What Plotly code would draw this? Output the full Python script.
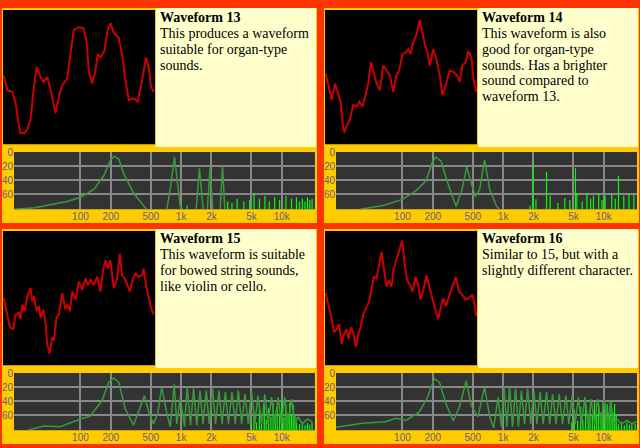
import plotly.graph_objects as go

W, H = 640, 448

# ---- data ----
titles = ["Waveform 13", "Waveform 14", "Waveform 15", "Waveform 16"]
texts = [
    ["This produces a waveform", "suitable for organ-type", "sounds."],
    ["This waveform is also", "good for organ-type", "sounds. Has a brighter", "sound compared to", "waveform 13."],
    ["This waveform is suitable", "for bowed string sounds,", "like violin or cello."],
    ["Similar to 15, but with a", "slightly different character."],
]

wave13_t = [0, 11, 26, 36, 49, 61, 71, 81, 91, 99, 109, 119, 131, 141, 156, 166, 176, 191, 201, 211, 226, 239, 249, 256,
            266, 276, 283, 291, 303, 313, 321, 331, 346, 356, 366, 376, 391, 403, 416, 428, 436, 443, 451]
wave13_a = [205, 160, 155, 120, 30, 28, 40, 70, 170, 230, 205, 185, 200, 160, 90, 140, 175, 195, 270, 345, 352, 350, 310, 220,
            180, 220, 270, 260, 280, 345, 365, 335, 320, 270, 190, 130, 135, 125, 190, 260, 230, 170, 155]

wave14_t = [0, 8, 18, 28, 38, 45, 51, 56, 63, 73, 83, 93, 101, 111, 121, 128, 136, 143, 153, 163, 173, 183, 193, 203, 213, 221,
            231, 241, 248, 255, 263, 273, 283, 291, 298, 305, 313, 323, 333, 343, 351, 361, 373, 385, 395, 403, 411, 421, 429,
            438, 445, 453]
wave14_a = [210, 170, 130, 180, 145, 125, 60, 30, 50, 70, 115, 110, 125, 110, 150, 180, 245, 220, 180, 160, 235, 220, 205, 155,
            205, 220, 270, 275, 285, 270, 305, 330, 375, 335, 300, 280, 235, 285, 255, 205, 145, 175, 220, 215, 205, 185, 235,
            245, 280, 260, 190, 155]

wave15_t = [0, 9, 19, 29, 36, 46, 51, 56, 63, 71, 81, 86, 91, 99, 106, 111, 119, 126, 131, 138, 146, 151, 159, 166, 176, 186,
            191, 199, 206, 216, 226, 236, 246, 253, 261, 271, 281, 291, 299, 306, 313, 321, 331, 341, 349, 356, 366, 379, 389,
            396, 406, 416, 421, 429, 436, 443, 451]
wave15_a = [200, 160, 110, 105, 150, 155, 135, 180, 160, 205, 230, 190, 205, 160, 175, 140, 165, 120, 60, 30, 80, 70, 140, 150,
            215, 165, 180, 160, 220, 195, 250, 225, 260, 240, 255, 240, 265, 220, 285, 315, 290, 315, 230, 260, 335, 270, 255,
            220, 260, 275, 265, 270, 290, 235, 205, 170, 150]

wave16_t = [0, 8, 18, 25, 33, 40, 48, 55, 63, 69, 76, 83, 91, 98, 105, 113, 123, 131, 138, 145, 153, 161, 168, 175, 183, 190,
            198, 205, 215, 223, 230, 238, 245, 253, 261, 270, 278, 285, 295, 303, 311, 318, 328, 338, 345, 353, 361, 371, 381,
            391, 401, 411, 421, 431, 441, 448, 453]
wave16_a = [215, 180, 135, 95, 105, 120, 60, 90, 105, 75, 110, 95, 50, 90, 110, 150, 175, 190, 230, 265, 260, 310, 340, 290,
            235, 255, 235, 290, 325, 345, 375, 300, 255, 240, 220, 265, 240, 195, 230, 270, 235, 205, 170, 135, 170, 200, 175,
            205, 230, 265, 220, 210, 195, 200, 210, 180, 145]

# spectra: frequency (Hz) and level (dB below top)
spec13_f = [22, 35, 74, 100, 136, 170, 198, 217, 240, 268, 337, 424, 458, 720, 795, 860, 890, 978, 1035, 1410, 1520, 1660,
            1820, 1940, 2060, 2440, 2580, 2720]
spec13_db = [81, 79, 70, 64, 53, 34, 12, 6, 10, 30, 58, 76, 82, 82, 44, 7, 25, 76, 82, 82, 23, 82, 82, 22, 82, 82, 20, 82]
spike13_f = [1150, 2900, 3200, 3600, 4200, 4800, 5300, 6000, 6800, 7500, 8500, 9500, 11000, 12500, 14000, 15000, 16000,
             17000, 18000, 19000, 20000]
spike13_db = [76, 70, 72, 66, 70, 68, 58, 66, 62, 70, 64, 68, 62, 66, 64, 70, 66, 70, 64, 68, 66]

spec14_f = [38, 63, 100, 136, 171, 200, 215, 242, 282, 341, 390, 435, 482, 532, 585, 655, 736, 858, 926]
spec14_db = [81, 76, 67, 55, 41, 13, 7, 13, 44, 77, 53, 21, 44, 63, 53, 11, 53, 76, 82]
spike14_f = [1850, 1970, 2120, 2700, 2930, 3500, 4100, 4600, 5230, 5400, 6100, 6800, 7400, 7900, 8900, 9600, 10300, 12000,
             13000, 14000, 15800, 17800, 19900]
spike14_db = [76, 16, 67, 28, 62, 72, 65, 68, 23, 58, 70, 58, 66, 62, 58, 68, 62, 58, 66, 34, 62, 60, 60]

spec15_f = [30, 43, 63, 100, 125, 164, 191, 214, 240, 279, 337, 385, 432, 484, 532, 584, 643, 710, 780, 855, 905, 980, 1080,
            1150, 1240, 1330, 1430, 1540, 1650, 1780, 1900, 2050, 2200, 2380, 2550, 2750, 2950, 3200, 3450, 3700, 4000, 4300,
            4650, 5000, 5400, 5800, 6300, 6800, 7300, 7900, 8500, 9200, 9900, 10700, 11500, 12500, 13500, 14500, 16000,
            18000, 20000]
spec15_db = [81, 75, 76, 65, 61, 39, 13, 7, 13, 51, 74, 53, 32, 58, 72, 58, 20, 53, 76, 16, 72, 34, 76, 20, 74, 22, 74, 25,
             72, 25, 72, 22, 72, 25, 72, 27, 72, 27, 72, 25, 72, 30, 72, 25, 72, 32, 72, 30, 72, 34, 72, 34, 72, 34, 72, 37,
             72, 62, 72, 65, 69]
spike15_f = [5000, 5300, 5600, 6000, 6300, 6700, 7000, 7400, 7800, 8200, 8600, 9000, 9500, 10000, 10500, 11000, 11500,
             12000, 12500, 13000, 13500, 14000, 15000, 16000, 17000, 18000, 19000, 20000]
spike15_db = [72, 55, 70, 50, 68, 45, 66, 50, 62, 42, 60, 48, 58, 40, 62, 45, 60, 42, 58, 45, 60, 70, 72, 70, 74, 71, 73, 70]

spec16_f = [21, 40, 68, 86, 108, 147, 178, 207, 233, 271, 320, 368, 430, 482, 562, 655, 736, 806, 891, 962, 1020, 1090, 1160,
            1240, 1330, 1420, 1520, 1630, 1750, 1880, 2020, 2170, 2330, 2500, 2700, 2900, 3100, 3350, 3600, 3900, 4200, 4500,
            4850, 5200, 5600, 6000, 6500, 7000, 7500, 8100, 8700, 9400, 10100, 10900, 11700, 12600, 13500, 15000, 17000,
            19000, 21000]
spec16_db = [77, 71, 69, 64, 67, 55, 34, 8, 13, 44, 68, 48, 11, 46, 62, 20, 62, 78, 34, 76, 20, 76, 20, 76, 22, 76, 25, 72,
             22, 72, 25, 72, 27, 72, 27, 72, 30, 72, 30, 72, 32, 72, 32, 72, 34, 72, 34, 72, 37, 72, 37, 72, 37, 72, 39, 72,
             65, 72, 67, 72, 69]
spike16_f = [4800, 5100, 5500, 5900, 6200, 6600, 7000, 7300, 7700, 8100, 8500, 8900, 9400, 9800, 10300, 10800, 11300,
             11800, 12300, 12800, 13300, 14000, 15000, 16000, 17000, 18000, 19000, 20500]
spike16_db = [70, 52, 68, 48, 66, 44, 64, 50, 60, 40, 58, 46, 56, 42, 60, 44, 58, 40, 56, 44, 58, 72, 70, 74, 70, 73, 71, 72]

waves = [(wave13_t, wave13_a), (wave14_t, wave14_a), (wave15_t, wave15_a), (wave16_t, wave16_a)]
spectra = [(spec13_f, spec13_db, spike13_f, spike13_db), (spec14_f, spec14_db, spike14_f, spike14_db),
           (spec15_f, spec15_db, spike15_f, spike15_db), (spec16_f, spec16_db, spike16_f, spike16_db)]
offsets = [(0, 0), (322, 0), (0, 224), (322, 224)]

RED, YEL, PALE = "#ff3300", "#ffcc00", "#ffffcc"
TICKFONT = dict(family="Arial, Liberation Sans", size=10, color="#6e5a7e")


def px(x):
    return x / W


def py(y):
    return 1 - y / H


fig = go.Figure()
shapes, annotations, layout_axes = [], [], {}


def rect(x0, y0, x1, y1, color):
    shapes.append(dict(type="rect", xref="paper", yref="paper", x0=px(x0), x1=px(x1), y0=py(y1), y1=py(y0),
                       fillcolor=color, line_width=0, layer="below"))


def label(x, y, text):
    annotations.append(dict(xref="paper", yref="paper", x=px(x), y=py(y), xanchor="left", yanchor="middle",
                            showarrow=False, align="left", text=text,
                            font=dict(family="Liberation Serif", size=14, color="black")))


for i, (ox, oy) in enumerate(offsets):
    rect(ox + 2, oy + 2, ox + 317, oy + 220, YEL)
    rect(ox + 3, oy + 4, ox + 155, oy + 140, "black")
    rect(ox + 156, oy + 2, ox + 316, oy + 143, PALE)
    rect(ox + 14, oy + 148, ox + 315, oy + 206, "#333333")

    wa, sa = 2 * i + 1, 2 * i + 2
    t, a = waves[i]
    fig.add_trace(go.Scatter(x=t, y=a, mode="lines", line=dict(color="#cc0000", width=2),
                             xaxis=f"x{wa}", yaxis=f"y{wa}", showlegend=False))
    layout_axes[f"xaxis{wa}"] = dict(domain=[px(ox + 3), px(ox + 155)], range=[-2, 455], visible=False,
                                     anchor=f"y{wa}")
    layout_axes[f"yaxis{wa}"] = dict(domain=[py(oy + 140), py(oy + 4)], range=[-5, 405], visible=False,
                                     anchor=f"x{wa}")

    f, db, sf, sdb = spectra[i]
    xs, ys = [], []
    for fr, d in zip(sf, sdb):
        xs += [fr, fr, None]
        ys += [82, d, None]
    fig.add_trace(go.Scatter(x=xs, y=ys, mode="lines", line=dict(color="#00ff00", width=1.2),
                             xaxis=f"x{sa}", yaxis=f"y{sa}", showlegend=False))
    fig.add_trace(go.Scatter(x=f, y=db, mode="lines", line=dict(color="#3a9a3a", width=1.5),
                             xaxis=f"x{sa}", yaxis=f"y{sa}", showlegend=False))
    layout_axes[f"xaxis{sa}"] = dict(
        domain=[px(ox + 14), px(ox + 315)], type="log", range=[1.34, 4.33], anchor=f"y{sa}",
        tickvals=[100, 200, 500, 1000, 2000, 5000, 10000],
        ticktext=["100", "200", "500", "1k", "2k", "5k", "10k"],
        showgrid=True, gridcolor="#888888", gridwidth=1.5, zeroline=False, ticks="", ticklen=0, tickfont=TICKFONT)
    layout_axes[f"yaxis{sa}"] = dict(
        domain=[py(oy + 206), py(oy + 148)], range=[81, 0], anchor=f"x{sa}",
        tickvals=[0, 20, 40, 60], showgrid=True, gridcolor="#888888", gridwidth=1.5, zeroline=False,
        ticks="", ticklen=0, tickfont=TICKFONT)

    label(ox + 158, oy + 12, f"<b>{titles[i]}</b>")
    for k, line in enumerate(texts[i]):
        label(ox + 158, oy + 28 + 16 * k, line)

fig.update_layout(width=W, height=H, margin=dict(l=0, r=0, t=0, b=0), paper_bgcolor=RED,
                  plot_bgcolor="rgba(0,0,0,0)", shapes=shapes, annotations=annotations, **layout_axes)
fig.write_html("out.html", config={"displayModeBar": False},
               post_script="document.body.style.margin='0';")
